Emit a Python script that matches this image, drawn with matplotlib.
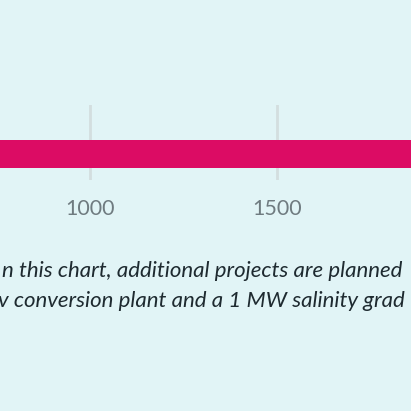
import matplotlib.pyplot as plt

bg = '#e1f4f6'
values = [2100]
ticks = [1000, 1500]
lines = ["n this chart, additional projects are planned",
         "v conversion plant and a 1 MW salinity grad"]

fig = plt.figure(figsize=(4.11, 4.11), dpi=100, facecolor=bg)
ax = fig.add_axes([0, 1 - 180 / 411, 1, 75 / 411])
ax.set_facecolor(bg)
ax.barh([0], values, height=0.75, color='#dc0c64', zorder=2)
ax.set_xlim(759, 1858)
ax.set_ylim(-0.697, 1.313)
ax.set_xticks(ticks)
ax.set_yticks([])
ax.grid(axis='x', color='#d3dedf', linewidth=2, zorder=1)
ax.tick_params(axis='x', length=0, pad=14, labelsize=15.5, labelcolor='#6f7b80')
for lbl in ax.get_xticklabels():
    lbl.set_family('Lato')
for s in ax.spines.values():
    s.set_visible(False)

fig.text(2 / 411, 1 - 271 / 411, lines[0], fontsize=16, style='italic',
         family='Lato', color='#1e2a30', va='center', ha='left')
fig.text(-2 / 411, 1 - 301 / 411, lines[1], fontsize=16, style='italic',
         family='Lato', color='#1e2a30', va='center', ha='left')

fig.savefig('out.png', dpi=100, facecolor=bg)
